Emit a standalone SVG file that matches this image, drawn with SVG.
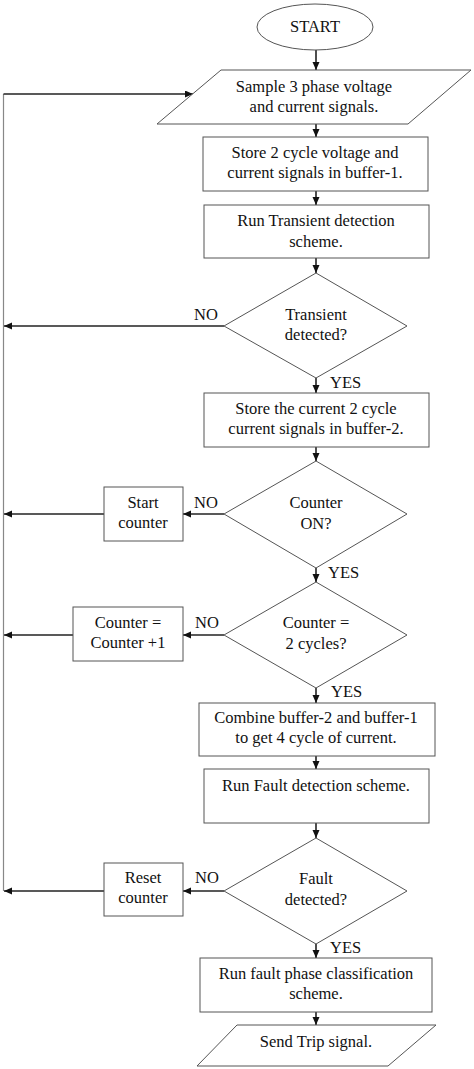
<svg xmlns="http://www.w3.org/2000/svg" width="474" height="1069" viewBox="0 0 474 1069">
<style>
.shape{fill:#fff;stroke:#555;stroke-width:1}
.t{font-family:"Liberation Serif","Times New Roman",serif;font-size:16.5px;fill:#111;text-anchor:middle}
.l{font-family:"Liberation Serif","Times New Roman",serif;font-size:16.5px;fill:#111}
.c{fill:none;stroke:#222;stroke-width:1.6}
.v{fill:none;stroke:#888;stroke-width:1.2}
</style>
<defs>
<marker id="ah" markerUnits="userSpaceOnUse" markerWidth="9" markerHeight="8" refX="8" refY="3.5" orient="auto">
<path d="M0,0 L8,3.5 L0,7 z" fill="#111"/>
</marker>
</defs>
<rect width="474" height="1069" fill="#fff"/>
<g id="connectors">
<path class="c" d="M316,50 V70" marker-end="url(#ah)"/>
<path class="c" d="M316,124 V137" marker-end="url(#ah)"/>
<path class="c" d="M316,191 V205" marker-end="url(#ah)"/>
<path class="c" d="M316,258 V273" marker-end="url(#ah)"/>
<path class="c" d="M316,378 V393" marker-end="url(#ah)"/>
<path class="c" d="M316,447 V461" marker-end="url(#ah)"/>
<path class="c" d="M316,568 V582" marker-end="url(#ah)"/>
<path class="c" d="M316,688 V703" marker-end="url(#ah)"/>
<path class="c" d="M316,756 V769" marker-end="url(#ah)"/>
<path class="c" d="M316,823 V838" marker-end="url(#ah)"/>
<path class="c" d="M316,944 V958" marker-end="url(#ah)"/>
<path class="c" d="M316,1012 V1025" marker-end="url(#ah)"/>
<path class="c" d="M224,326 H4" marker-end="url(#ah)"/>
<path class="c" d="M224,514 H183" marker-end="url(#ah)"/>
<path class="c" d="M104,514 H4" marker-end="url(#ah)"/>
<path class="c" d="M224,635 H183" marker-end="url(#ah)"/>
<path class="c" d="M73,635 H4" marker-end="url(#ah)"/>
<path class="c" d="M224,891 H183" marker-end="url(#ah)"/>
<path class="c" d="M104,891 H4" marker-end="url(#ah)"/>
<path class="v" d="M3.5,891 V94"/>
<path class="c" d="M3.5,94 H193" marker-end="url(#ah)"/>
<text class="l" x="194" y="320">NO</text>
<text class="l" x="330" y="388">YES</text>
<text class="l" x="194" y="508">NO</text>
<text class="l" x="328" y="578">YES</text>
<text class="l" x="195" y="628">NO</text>
<text class="l" x="331" y="697">YES</text>
<text class="l" x="195" y="883">NO</text>
<text class="l" x="330" y="953">YES</text>
</g>
<g id="start">
<ellipse class="shape" cx="315" cy="27" rx="58" ry="23"/>
<text class="t" x="315" y="32">START</text>
</g>
<g id="sample">
<polygon class="shape" points="221,70 471,70 408,124 157,124"/>
<text class="t" x="314" y="92">Sample 3 phase voltage</text>
<text class="t" x="314" y="112">and current signals.</text>
</g>
<g id="store1">
<rect class="shape" x="203" y="137" width="225" height="54"/>
<text class="t" x="315" y="158">Store 2 cycle voltage and</text>
<text class="t" x="315" y="178">current signals in buffer-1.</text>
</g>
<g id="transient-scheme">
<rect class="shape" x="204" y="205" width="225" height="53"/>
<text class="t" x="316" y="226">Run Transient detection</text>
<text class="t" x="316" y="247">scheme.</text>
</g>
<g id="transient-detected">
<polygon class="shape" points="316,273 407,326 316,378 224,326"/>
<text class="t" x="316" y="320">Transient</text>
<text class="t" x="316" y="340">detected?</text>
</g>
<g id="store2">
<rect class="shape" x="204" y="393" width="225" height="54"/>
<text class="t" x="316" y="414">Store the current 2 cycle</text>
<text class="t" x="316" y="434">current signals in buffer-2.</text>
</g>
<g id="counter-on">
<polygon class="shape" points="316,461 407,514 316,568 224,514"/>
<text class="t" x="316" y="508">Counter</text>
<text class="t" x="316" y="529">ON?</text>
</g>
<g id="start-counter">
<rect class="shape" x="104" y="487" width="79" height="54"/>
<text class="t" x="143" y="508">Start</text>
<text class="t" x="143" y="528">counter</text>
</g>
<g id="counter-2">
<polygon class="shape" points="316,582 407,635 316,688 224,635"/>
<text class="t" x="316" y="628">Counter =</text>
<text class="t" x="316" y="649">2 cycles?</text>
</g>
<g id="counter-inc">
<rect class="shape" x="73" y="607" width="110" height="54"/>
<text class="t" x="128" y="628">Counter =</text>
<text class="t" x="128" y="648">Counter +1</text>
</g>
<g id="combine">
<rect class="shape" x="199" y="703" width="236" height="53"/>
<text class="t" x="316" y="723">Combine buffer-2 and buffer-1</text>
<text class="t" x="316" y="743">to get 4 cycle of current.</text>
</g>
<g id="fault-scheme">
<rect class="shape" x="204" y="769" width="225" height="54"/>
<text class="t" x="316" y="791">Run Fault detection scheme.</text>
</g>
<g id="fault-detected">
<polygon class="shape" points="316,838 407,891 316,944 224,891"/>
<text class="t" x="316" y="884">Fault</text>
<text class="t" x="316" y="905">detected?</text>
</g>
<g id="reset-counter">
<rect class="shape" x="104" y="863" width="79" height="53"/>
<text class="t" x="143" y="883">Reset</text>
<text class="t" x="143" y="903">counter</text>
</g>
<g id="classify">
<rect class="shape" x="200" y="958" width="232" height="54"/>
<text class="t" x="316" y="979">Run fault phase classification</text>
<text class="t" x="316" y="999">scheme.</text>
</g>
<g id="trip">
<polygon class="shape" points="237,1025 436,1025 388,1066 197,1066"/>
<text class="t" x="316" y="1047">Send Trip signal.</text>
</g>
</svg>
